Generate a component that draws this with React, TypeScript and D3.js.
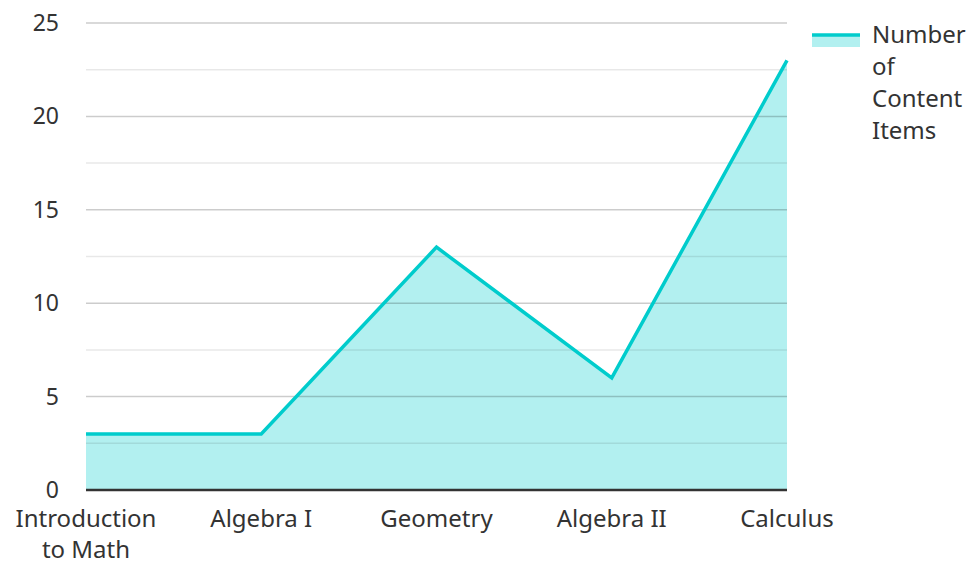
import React from 'react';
import { scaleLinear, scalePoint, area, line, range } from 'd3';

const categories = ['Introduction to Math', 'Algebra I', 'Geometry', 'Algebra II', 'Calculus'];
const categoryLines = [['Introduction', 'to Math'], ['Algebra I'], ['Geometry'], ['Algebra II'], ['Calculus']];
const contentItems = [3, 3, 13, 6, 23];
const yTicks = [0, 5, 10, 15, 20, 25];
const legendLines = ['Number', 'of', 'Content', 'Items'];

const dims = {
  width: 973,
  height: 562,
  left: 86,
  right: 787,
  top: 23,
  bottom: 490,
};

const lineColor = '#00cccc';
const font = '"Noto Sans", "Open Sans", sans-serif';

const App: React.FC = () => {
  const x = scalePoint<string>().domain(categories).range([dims.left, dims.right]);
  const y = scaleLinear().domain([0, 25]).range([dims.bottom, dims.top]);

  const pts = categories.map((c, i) => ({ c, v: contentItems[i] }));
  const areaGen = area<{ c: string; v: number }>()
    .x(d => x(d.c) as number)
    .y0(y(0))
    .y1(d => y(d.v));
  const lineGen = line<{ c: string; v: number }>()
    .x(d => x(d.c) as number)
    .y(d => y(d.v));

  const minor = range(2.5, 25, 5);

  return (
    <svg
      width={dims.width}
      height={dims.height}
      style={{ position: 'absolute', left: 0, top: 0, fontFamily: font }}
    >
      <rect width={dims.width} height={dims.height} fill="#fff" />
      <path d={areaGen(pts) || ''} fill={lineColor} fillOpacity={0.3} />
      {minor.map(t => (
        <line key={'m' + t} x1={dims.left} x2={dims.right} y1={y(t)} y2={y(t)} stroke="#000" strokeOpacity={0.09} strokeWidth={1.5} />
      ))}
      {yTicks.filter(t => t > 0).map(t => (
        <line key={'g' + t} x1={dims.left} x2={dims.right} y1={y(t)} y2={y(t)} stroke="#000" strokeOpacity={0.2} strokeWidth={1.5} />
      ))}
      <path d={lineGen(pts) || ''} fill="none" stroke={lineColor} strokeWidth={3.5} strokeLinejoin="miter" />
      <line x1={dims.left} x2={dims.right} y1={y(0)} y2={y(0)} stroke="#333" strokeWidth={2.5} />
      {yTicks.map(t => (
        <text key={'t' + t} x={59} y={y(t)} dy="0.35em" textAnchor="end" fontSize={23} fill="#333">
          {t}
        </text>
      ))}
      {categories.map((c, i) => (
        <text key={c} x={x(c)} y={527} textAnchor="middle" fontSize={24} fill="#333">
          {categoryLines[i].map((l, j) => (
            <tspan key={j} x={x(c)} dy={j === 0 ? 0 : 31}>{l}</tspan>
          ))}
        </text>
      ))}
      <g>
        <rect x={812} y={35} width={48} height={12} fill={lineColor} fillOpacity={0.3} />
        <line x1={812} x2={860} y1={35} y2={35} stroke={lineColor} strokeWidth={3.5} />
        <text x={872} y={35} fontSize={24} fill="#333">
          {legendLines.map((l, j) => (
            <tspan key={j} x={872} dy={j === 0 ? '0.35em' : 32}>{l}</tspan>
          ))}
        </text>
      </g>
    </svg>
  );
};

export default App;
